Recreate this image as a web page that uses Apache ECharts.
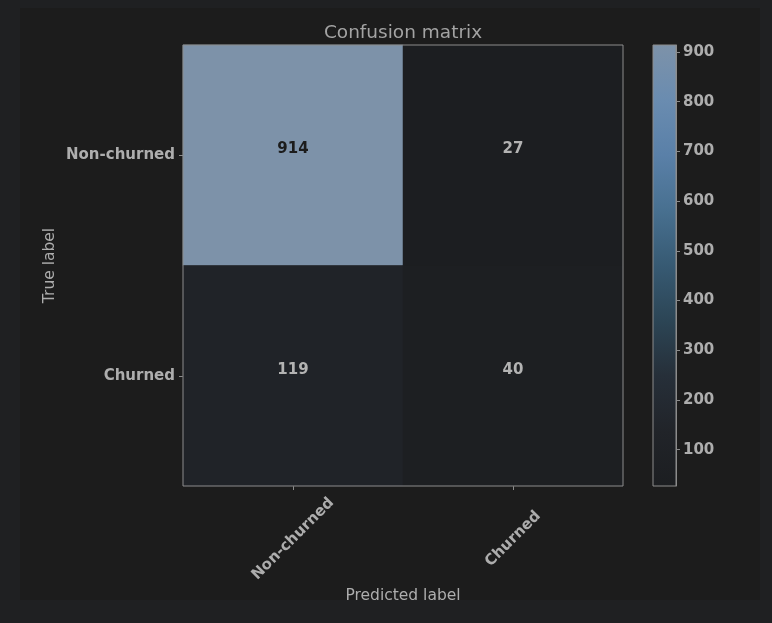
<!DOCTYPE html>
<html>
<head>
<meta charset="utf-8">
<script src="https://cdn.jsdelivr.net/npm/echarts@6/dist/echarts.min.js"></script>
<style>
html,body{margin:0;padding:0;background:#1f2022;}
#chart{width:772px;height:623px;}
</style>
</head>
<body>
<div id="chart"></div>
<script>
// ---- data ----
var predictedLabels = ['Non-churned', 'Churned'];
var trueLabels = ['Non-churned', 'Churned'];
var rowNonChurned = [914, 27];
var rowChurned = [119, 40];
var colorbarTicks = [100, 200, 300, 400, 500, 600, 700, 800, 900];
var titleText = 'Confusion matrix';
var xName = 'Predicted label';
var yName = 'True label';

// colormap stops, low -> high
var cmap = ['#1c1e21', '#212429', '#262f39', '#2c4555', '#375a73', '#487090', '#5a80a8', '#6a8cb0', '#7d92a9'];

var rows = [rowNonChurned, rowChurned];
var data = [];
rows.forEach(function (r, yi) {
  r.forEach(function (v, xi) { data.push([xi, yi, v]); });
});
var all = rowNonChurned.concat(rowChurned);
var vmin = Math.min.apply(null, all);
var vmax = Math.max.apply(null, all);
var thresh = vmax / 2;

var textColor = '#adadad';
var edgeColor = '#8c8c8c';
var font = 'DejaVu Sans';

var stops = cmap.slice().reverse().map(function (c, i, a) {
  return { offset: i / (a.length - 1), color: c };
});

var chart = echarts.init(document.getElementById('chart'));
chart.setOption({
  backgroundColor: '#1f2022',
  animation: false,
  graphic: [
    { type: 'rect', z: -10, shape: { x: 20, y: 8, width: 740, height: 592 }, style: { fill: '#1c1c1c' } },
    { type: 'text', x: 403, y: 33, style: { text: titleText, fill: '#a3a3a3', font: '18.5px "DejaVu Sans"', textAlign: 'center', textVerticalAlign: 'middle' } }
  ],
  grid: [
    { left: 183, top: 45, width: 440, height: 441, show: true, borderColor: edgeColor, borderWidth: 1, backgroundColor: 'transparent', z: 10 },
    { left: 653, top: 45, width: 23, height: 441, show: true, borderColor: edgeColor, borderWidth: 1,
      backgroundColor: { type: 'linear', x: 0, y: 0, x2: 0, y2: 1, colorStops: stops } }
  ],
  xAxis: [
    { type: 'category', gridIndex: 0, data: predictedLabels, position: 'bottom',
      axisLine: { show: false }, splitLine: { show: false },
      axisTick: { show: true, inside: false, alignWithLabel: true, length: 4, lineStyle: { color: edgeColor } },
      axisLabel: { rotate: 45, align: 'center', verticalAlign: 'middle', margin: 53, color: textColor, fontWeight: 'bold', fontSize: 15, fontFamily: font },
      name: xName, nameLocation: 'middle', nameGap: 102, nameMoveOverlap: false,
      nameTextStyle: { color: textColor, fontSize: 15.5, fontFamily: font } },
    { type: 'value', gridIndex: 1, show: false, min: 0, max: 1 }
  ],
  yAxis: [
    { type: 'category', gridIndex: 0, data: trueLabels, inverse: true,
      axisLine: { show: false }, splitLine: { show: false },
      axisTick: { show: true, inside: false, alignWithLabel: true, length: 4, lineStyle: { color: edgeColor } },
      axisLabel: { margin: 8, color: textColor, fontWeight: 'bold', fontSize: 15, fontFamily: font },
      name: yName, nameLocation: 'middle', nameGap: 125, nameRotate: 90, nameMoveOverlap: false,
      nameTextStyle: { color: textColor, fontSize: 15.5, fontFamily: font } },
    { type: 'value', gridIndex: 1, position: 'right', min: vmin, max: vmax,
      axisLine: { show: true, onZero: false, lineStyle: { color: edgeColor, width: 1 } },
      splitLine: { show: false },
      axisTick: { show: true, inside: false, length: 4, customValues: colorbarTicks, lineStyle: { color: edgeColor } },
      axisLabel: { customValues: colorbarTicks, margin: 7, color: textColor, fontWeight: 'bold', fontSize: 15, fontFamily: font } }
  ],
  visualMap: {
    show: false, type: 'continuous', min: vmin, max: vmax, seriesIndex: 0,
    inRange: { color: cmap }
  },
  series: [
    { type: 'heatmap', xAxisIndex: 0, yAxisIndex: 0,
      data: data.map(function (d) {
        return { value: d, label: { color: d[2] > thresh ? '#1c1c1c' : '#b3b3b3' } };
      }),
      label: { show: true, fontWeight: 'bold', fontSize: 15, fontFamily: font, offset: [0, -6],
        formatter: function (p) { return p.value[2]; } },
      itemStyle: { borderWidth: 0 }
    },
    { type: 'line', xAxisIndex: 1, yAxisIndex: 1, data: [], silent: true }
  ]
});
</script>
</body>
</html>
